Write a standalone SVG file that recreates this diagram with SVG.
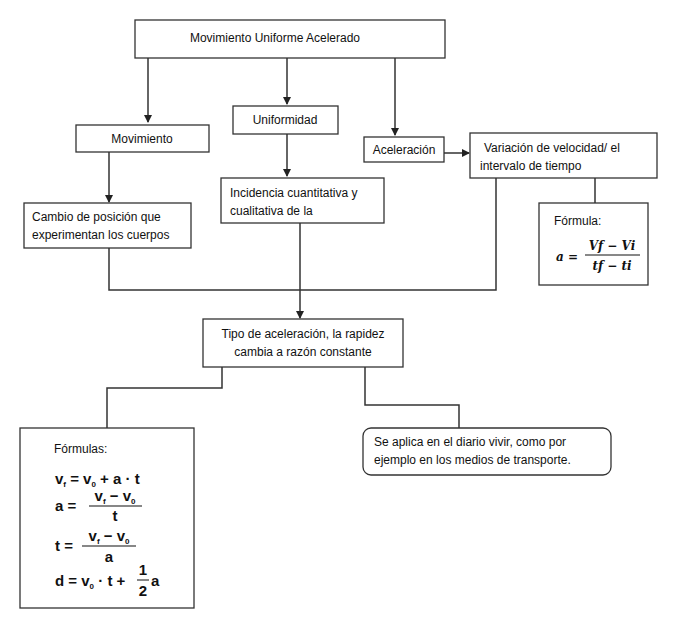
<svg xmlns="http://www.w3.org/2000/svg" width="677" height="618" viewBox="0 0 677 618">
<style>
.b{fill:#fff;stroke:#333;stroke-width:1.3}
.t{font-family:"Liberation Sans",Arial,sans-serif;font-size:12px;fill:#111}
.c{stroke:#333;stroke-width:1.5;fill:none}
.f{font-family:"Liberation Sans",Arial,sans-serif;font-size:15px;font-weight:bold;fill:#111}
.s{font-size:8px}
.m{font-family:"DejaVu Serif","Liberation Serif",serif;font-style:italic;font-weight:bold;font-size:12px;fill:#111}
</style>
<defs><marker id="a" markerWidth="8" markerHeight="8" refX="7" refY="4" orient="auto" markerUnits="userSpaceOnUse"><path d="M0,0L8,4L0,8z" fill="#222"/></marker></defs>
<rect width="677" height="618" fill="#fff"/>
<g id="connectors">
<path class="c" d="M148,58V122" marker-end="url(#a)"/>
<path class="c" d="M287,58V104" marker-end="url(#a)"/>
<path class="c" d="M395,58V135" marker-end="url(#a)"/>
<path class="c" d="M444,153H469" marker-end="url(#a)"/>
<path class="c" d="M109,152V202" marker-end="url(#a)"/>
<path class="c" d="M287,134V176" marker-end="url(#a)"/>
<path class="c" d="M595,178V203"/>
<path class="c" d="M109,248V290H496V178"/>
<path class="c" d="M300,223V318" marker-end="url(#a)"/>
<path class="c" d="M222,367V388H107V428"/>
<path class="c" d="M365,367V405H459V428"/>
</g>
<g id="n1"><rect class="b" x="135" y="20" width="310" height="38"/><text class="t" x="275" y="42" text-anchor="middle">Movimiento Uniforme  Acelerado</text></g>
<g id="n2"><rect class="b" x="76" y="125" width="133" height="27"/><text class="t" x="142" y="143" text-anchor="middle">Movimiento</text></g>
<g id="n3"><rect class="b" x="233" y="106" width="105" height="28"/><text class="t" x="285" y="124" text-anchor="middle">Uniformidad</text></g>
<g id="n4"><rect class="b" x="364" y="137" width="80" height="25"/><text class="t" x="404" y="154" text-anchor="middle">Aceleración</text></g>
<g id="n5"><rect class="b" x="470" y="133" width="187" height="45"/><text class="t" x="484" y="152">Variación de velocidad/ el</text><text class="t" x="480" y="170">intervalo de tiempo</text></g>
<g id="n6"><rect class="b" x="539" y="203" width="109" height="82"/><text class="t" x="554" y="225">Fórmula:</text>
<text class="m" x="556" y="261">a =</text><text class="m" x="612" y="250" text-anchor="middle">Vf − Vi</text><line x1="585" y1="255" x2="640" y2="255" stroke="#111" stroke-width="1"/><text class="m" x="612" y="270" text-anchor="middle">tf − ti</text></g>
<g id="n7"><rect class="b" x="24" y="203" width="167" height="45"/><text class="t" x="32" y="221">Cambio de posición que</text><text class="t" x="32" y="239">experimentan los cuerpos</text></g>
<g id="n8"><rect class="b" x="221" y="178" width="163" height="45"/><text class="t" x="230" y="197">Incidencia cuantitativa y</text><text class="t" x="230" y="215">cualitativa de la</text></g>
<g id="n9"><rect class="b" x="203" y="319" width="200" height="48"/><text class="t" x="303" y="338" text-anchor="middle">Tipo de aceleración, la rapidez</text><text class="t" x="303" y="356" text-anchor="middle">cambia a razón constante</text></g>
<g id="n10"><rect class="b" x="20" y="428" width="174" height="180" stroke-width="1.8"/>
<text class="t" x="54" y="453">Fórmulas:</text>
<text class="f" x="55" y="484">v<tspan class="s" dy="3">f</tspan><tspan dy="-3">  =  v</tspan><tspan class="s" dy="3">0</tspan><tspan dy="-3"> + a · t</tspan></text>
<text class="f" x="55" y="511">a =</text><text class="f" x="115" y="501" text-anchor="middle">v<tspan class="s" dy="3">f</tspan><tspan dy="-3"> − v</tspan><tspan class="s" dy="3">0</tspan></text><line x1="89" y1="506" x2="142" y2="506" stroke="#111" stroke-width="1.2"/><text class="f" x="115" y="521" text-anchor="middle">t</text>
<text class="f" x="55" y="551">t =</text><text class="f" x="109" y="541" text-anchor="middle">v<tspan class="s" dy="3">f</tspan><tspan dy="-3"> − v</tspan><tspan class="s" dy="3">0</tspan></text><line x1="82" y1="546" x2="136" y2="546" stroke="#111" stroke-width="1.2"/><text class="f" x="109" y="562" text-anchor="middle">a</text>
<text class="f" x="55" y="586">d = v<tspan class="s" dy="3">0</tspan><tspan dy="-3"> · t +</tspan></text><text class="f" x="143" y="575" text-anchor="middle" font-weight="normal">1</text><line x1="137" y1="580" x2="149" y2="580" stroke="#111" stroke-width="1"/><text class="f" x="143" y="596" text-anchor="middle" font-weight="normal">2</text><text class="f" x="151" y="586">a</text></g>
<g id="n11"><rect class="b" x="363" y="428" width="248" height="47" rx="8"/><text class="t" x="374" y="446">Se aplica en el diario vivir, como por</text><text class="t" x="374" y="464">ejemplo en los medios de transporte.</text></g>
</svg>
